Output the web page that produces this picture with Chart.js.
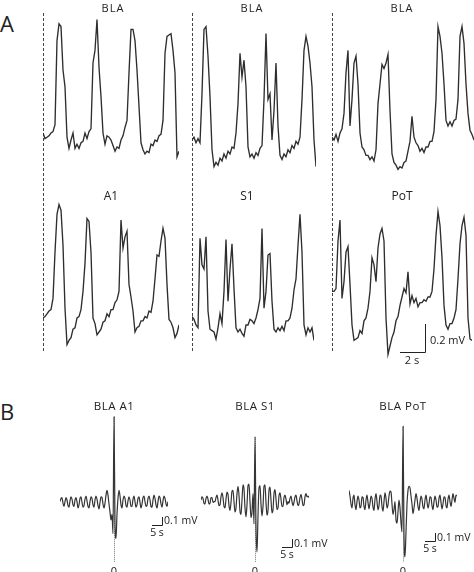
<!DOCTYPE html>
<html>
<head>
<meta charset="utf-8">
<script src="https://cdn.jsdelivr.net/npm/chart.js@4.4.1/dist/chart.umd.min.js"></script>
<style>
  body { margin: 0; width: 474px; height: 572px; position: relative; overflow: hidden; background: #fff;
         font-family: "Open Sans", "Noto Sans", sans-serif; color: #222; }
  canvas { position: absolute; }
  .lbl { position: absolute; white-space: nowrap; line-height: 1; transform: translate(-50%, -50%); }
  .left { transform: translate(0, -50%); }
  .dash { position: absolute; width: 0; border-left: 1px dashed #444; }
</style>
</head>
<body>
<script>
// ---- data (mV) ----
const traceStep = 0.16;   // s between samples, panel A
const lagStep = 0.5;      // s between lags, panel B
const lagStart = -27;

const blaTrace1 = [0.30,0.26,0.27,0.28,0.30,0.31,0.36,0.96,1.08,1.06,
  0.75,0.63,0.27,0.19,0.25,0.30,0.19,0.22,0.19,0.23,
  0.24,0.30,0.26,0.31,0.33,0.80,0.89,1.11,0.77,0.56,
  0.30,0.22,0.28,0.27,0.25,0.21,0.17,0.20,0.19,0.25,
  0.28,0.34,0.39,0.73,1.04,1.04,0.96,0.75,0.49,0.23,
  0.18,0.15,0.17,0.16,0.22,0.21,0.25,0.24,0.28,0.29,
  0.39,0.87,0.99,1.00,1.01,0.89,0.73,0.13,0.17];

const blaTrace2 = [0.25,0.27,0.23,0.26,0.23,0.58,1.04,1.06,0.85,0.56,
  0.18,0.06,0.09,0.07,0.12,0.10,0.15,0.12,0.17,0.15,
  0.20,0.19,0.30,0.51,0.87,0.70,0.82,0.63,0.20,0.13,
  0.15,0.12,0.16,0.14,0.19,0.21,0.54,1.01,0.54,0.58,
  0.25,0.46,0.80,0.35,0.14,0.11,0.15,0.13,0.18,0.16,
  0.21,0.19,0.24,0.22,0.27,0.54,0.89,0.99,0.92,0.80,
  0.63,0.25,0.06];

const blaTrace3 = [0.27,0.25,0.29,0.24,0.30,0.33,0.44,0.73,0.89,0.35,
  0.54,0.80,0.85,0.65,0.30,0.20,0.18,0.14,0.14,0.11,
  0.13,0.10,0.18,0.51,0.65,0.79,0.76,0.80,0.86,0.46,
  0.15,0.09,0.07,0.04,0.06,0.05,0.09,0.10,0.17,0.24,
  0.42,0.27,0.23,0.21,0.17,0.19,0.16,0.20,0.20,0.24,
  0.24,0.31,0.54,1.06,0.99,0.87,0.65,0.39,0.35,0.38,
  0.35,0.39,0.40,0.54,0.99,1.06,0.94,0.65,0.44,0.32,
  0.29,0.25];

const a1Trace = [0.30,0.31,0.33,0.35,0.36,0.44,0.77,1.04,1.11,1.07,
  0.82,0.37,0.11,0.14,0.16,0.22,0.23,0.30,0.31,0.36,
  0.49,0.69,1.01,0.99,0.77,0.30,0.26,0.18,0.20,0.22,
  0.27,0.28,0.33,0.31,0.36,0.36,0.41,0.43,0.49,1.00,
  0.80,0.88,0.92,0.54,0.45,0.35,0.20,0.23,0.24,0.28,
  0.28,0.31,0.30,0.35,0.34,0.42,0.58,0.75,0.74,0.85,
  0.94,0.87,0.54,0.29,0.27,0.23,0.16,0.19,0.25];

const s1Trace = [0.31,0.29,0.25,0.23,0.87,0.68,0.65,0.88,0.35,0.22,
  0.21,0.20,0.15,0.23,0.33,0.26,0.49,0.86,0.42,0.65,
  0.83,0.51,0.23,0.20,0.22,0.19,0.17,0.25,0.25,0.29,
  0.28,0.26,0.30,0.36,0.44,0.94,0.37,0.49,0.75,0.76,
  0.42,0.22,0.20,0.23,0.21,0.24,0.21,0.28,0.28,0.30,
  0.37,0.50,0.58,0.82,1.04,0.77,0.25,0.18,0.23,0.20,
  0.23,0.14];

const potTrace = [0.49,0.49,0.51,0.85,1.00,0.44,0.56,0.77,0.81,0.54,
  0.25,0.14,0.15,0.16,0.21,0.19,0.28,0.30,0.37,0.49,
  0.73,0.68,0.56,0.80,0.90,0.94,0.85,0.30,0.04,0.10,
  0.16,0.20,0.28,0.31,0.39,0.45,0.51,0.48,0.63,0.40,
  0.46,0.41,0.44,0.38,0.41,0.41,0.43,0.42,0.45,0.45,
  0.49,0.65,0.89,1.06,0.96,0.73,0.39,0.25,0.22,0.26,
  0.26,0.30,0.36,0.58,0.83,0.96,1.02,0.89,0.30,0.15,
  0.14];

const corrBlaA1 = [-0.02,0.02,0.03,-0.04,-0.08,-0.02,0.03,0.00,-0.07,-0.09,
  -0.01,0.04,0.01,-0.06,-0.08,0.00,0.03,-0.02,-0.10,-0.06,
  0.02,0.04,-0.03,-0.09,-0.07,0.01,0.05,-0.01,-0.08,-0.10,
  -0.02,0.04,0.02,-0.06,-0.09,0.00,0.05,0.01,-0.07,-0.11,
  -0.03,0.04,0.03,-0.05,-0.10,-0.04,0.06,0.12,0.06,-0.05,
  -0.15,-0.25,-0.18,-0.42,1.04,-0.30,-0.48,-0.18,0.02,0.12,
  0.05,-0.06,-0.10,0.00,0.05,0.02,-0.07,-0.09,-0.01,0.04,
  0.00,-0.08,-0.08,0.01,0.05,-0.02,-0.09,-0.06,0.02,0.04,
  -0.03,-0.10,-0.05,0.03,0.05,-0.02,-0.08,-0.07,0.02,0.05,
  0.00,-0.08,-0.09,0.00,0.06,0.02,-0.06,-0.10,-0.02,0.05,
  0.03,-0.05,-0.09,-0.01,0.05,0.02,-0.05,-0.08,-0.02];

const corrBlaS1 = [0.00,0.04,0.02,-0.04,-0.05,0.02,0.05,0.01,-0.05,-0.04,
  0.03,0.03,-0.03,-0.02,-0.02,0.03,0.06,0.00,-0.07,-0.06,
  0.04,0.09,0.03,-0.08,-0.10,0.01,0.10,0.07,-0.07,-0.13,
  -0.03,0.11,0.12,-0.02,-0.15,-0.10,0.08,0.17,0.06,-0.14,
  -0.18,0.00,0.19,0.14,-0.10,-0.21,-0.06,0.18,0.20,-0.02,
  -0.22,-0.15,0.08,-0.30,0.79,-0.35,-0.65,-0.20,0.15,0.18,
  -0.05,-0.20,-0.08,0.17,0.19,-0.03,-0.19,-0.13,0.12,0.16,
  0.00,-0.16,-0.12,0.08,0.13,0.01,-0.12,-0.10,0.05,0.09,
  0.01,-0.08,-0.08,0.03,0.06,0.01,-0.06,-0.02,-0.04,0.02,
  0.05,-0.02,-0.07,-0.03,0.04,0.06,-0.01,-0.07,-0.05,0.03,
  0.07,0.01,-0.07,-0.06,0.04,0.08,0.04,0.05,0.03];

const corrBlaPoT = [0.12,0.05,-0.05,-0.10,0.02,0.06,-0.06,-0.12,-0.02,0.05,
  0.00,-0.10,-0.08,0.04,0.03,-0.08,-0.12,0.00,0.06,-0.03,
  -0.11,-0.04,0.05,0.02,-0.09,-0.13,0.01,0.08,-0.02,-0.12,
  -0.07,0.06,0.05,-0.08,-0.14,-0.02,0.09,0.02,-0.10,-0.06,
  0.05,0.11,0.10,-0.05,-0.18,-0.12,-0.02,-0.25,-0.29,-0.15,
  0.00,-0.10,-0.28,-0.40,0.92,-0.45,-0.71,-0.40,-0.05,0.12,
  0.17,0.15,0.05,-0.05,-0.17,-0.10,0.00,0.08,0.02,-0.08,
  -0.13,-0.03,0.05,0.01,-0.09,-0.11,0.00,0.06,-0.02,-0.10,
  -0.05,0.04,0.03,-0.07,-0.12,-0.02,0.05,0.00,-0.09,-0.08,
  0.02,0.06,-0.03,-0.11,-0.05,0.04,0.03,-0.07,-0.10,0.01,
  0.06,-0.02,-0.08,0.00,0.08,0.02,-0.03,0.06,0.05];

const topTitles = ['BLA', 'BLA', 'BLA'];
const bottomTitles = ['A1', 'S1', 'PoT'];
const corrTitles = ['BLA A1', 'BLA S1', 'BLA PoT'];

// ---- layout ----
const PAD = 4;
const A_PX_S = 12.5, A_PX_MV = 140, A_VMAX = 1.2;
const B_PX_S = 2, B_PX_MV = 80, B_VMIN = -0.775, B_VMAX = 1.125;

// scale bar drawn in data units of its chart
const scaleBar = {
  id: 'scaleBar',
  afterDatasetsDraw(chart, args, o) {
    if (o.x0 === undefined) return;
    const {x, y} = chart.scales, ctx = chart.ctx;
    const xa = x.getPixelForValue(o.x0), xb = x.getPixelForValue(o.x0 + o.dx);
    const ya = y.getPixelForValue(o.y0), yb = y.getPixelForValue(o.y0 + o.dy);
    ctx.save();
    ctx.strokeStyle = '#222';
    ctx.lineWidth = 1;
    ctx.beginPath();
    ctx.moveTo(Math.round(xa), Math.round(ya) + 0.5);
    ctx.lineTo(Math.round(xb) + 0.5, Math.round(ya) + 0.5);
    ctx.lineTo(Math.round(xb) + 0.5, Math.round(yb));
    ctx.stroke();
    ctx.restore();
  }
};

// dotted zero-lag line
const zeroLine = {
  id: 'zeroLine',
  beforeDatasetsDraw(chart, args, o) {
    if (!o.on) return;
    const {x, y} = chart.scales, ctx = chart.ctx;
    const vals = chart.data.datasets[0].data.map(p => p.y);
    const px = Math.round(x.getPixelForValue(0)) + 0.5;
    ctx.save();
    ctx.strokeStyle = '#777';
    ctx.lineWidth = 1;
    ctx.setLineDash([1, 1]);
    ctx.beginPath();
    ctx.moveTo(px, y.getPixelForValue(Math.max(...vals)));
    ctx.lineTo(px, chart.chartArea.bottom);
    ctx.stroke();
    ctx.restore();
  }
};

function drawTrace({values, step, start = 0, left, top, width, height, yMin, yMax, lineW, color, bar, zero, smooth}) {
  const c = document.createElement('canvas');
  c.width = width + 2 * PAD;
  c.height = height + 2 * PAD;
  c.style.left = (left - PAD) + 'px';
  c.style.top = (top - PAD) + 'px';
  document.body.appendChild(c);
  new Chart(c, {
    type: 'line',
    data: {
      datasets: [{
        data: values.map((v, i) => ({x: start + i * step, y: v})),
        borderColor: color,
        borderWidth: lineW,
        pointRadius: 0,
        tension: smooth ? 0.4 : 0,
        cubicInterpolationMode: smooth ? 'monotone' : 'default',
        fill: false
      }]
    },
    options: {
      responsive: false,
      animation: false,
      events: [],
      layout: { padding: PAD },
      plugins: {
        legend: { display: false },
        tooltip: { enabled: false },
        scaleBar: bar || {},
        zeroLine: { on: !!zero }
      },
      scales: {
        x: { type: 'linear', display: false, min: start, max: start + (values.length - 1) * step },
        y: { display: false, min: yMin, max: yMax }
      }
    },
    plugins: [scaleBar, zeroLine]
  });
}

function label(text, x, y, size, cls) {
  const d = document.createElement('div');
  d.className = 'lbl' + (cls ? ' ' + cls : '');
  d.textContent = text;
  d.style.left = x + 'px';
  d.style.top = y + 'px';
  d.style.fontSize = size + 'px';
  document.body.appendChild(d);
  return d;
}

// ---- panel A ----
const colLeft = [43, 192, 332];
const rowBottom = [175, 360];
const rows = [[blaTrace1, blaTrace2, blaTrace3], [a1Trace, s1Trace, potTrace]];

colLeft.forEach(x => {
  const d = document.createElement('div');
  d.className = 'dash';
  d.style.left = x + 'px';
  d.style.top = '13px';
  d.style.height = '338px';
  document.body.appendChild(d);
});

rows.forEach((row, r) => {
  row.forEach((vals, c) => {
    drawTrace({
      values: vals, step: traceStep,
      left: colLeft[c], top: rowBottom[r] - A_VMAX * A_PX_MV,
      width: Math.round((vals.length - 1) * traceStep * A_PX_S), height: A_VMAX * A_PX_MV,
      yMin: 0, yMax: A_VMAX, lineW: 1.35, color: '#2e2e2e',
      bar: (r === 1 && c === 2) ? {x0: 5.44, dx: 2, y0: 0.057, dy: 0.2} : null
    });
  });
});

label('A', 0, 23, 22, 'left');
[113, 252, 402].forEach((x, i) => label(topTitles[i], x, 7, 11).style.letterSpacing = '1px');
[111, 247, 402].forEach((x, i) => label(bottomTitles[i], x, 196, 12));
label('0.2 mV', 430, 339, 11, 'left');
label('2 s', 412, 359, 11);

// ---- panel B ----
const corrCenter = [114, 255, 403];
const corrSeries = [corrBlaA1, corrBlaS1, corrBlaPoT];
const corrBars = [
  {x0: 19, dx: 5, y0: -0.3125, dy: 0.1},
  {x0: 13.5, dx: 5, y0: -0.5875, dy: 0.1},
  {x0: 11, dx: 5, y0: -0.5125, dy: 0.1}
];
const corrBarLabels = [[164, 520, 157, 532], [294, 543, 287, 554], [437, 537, 430, 548]];

corrSeries.forEach((vals, i) => {
  const span = (vals.length - 1) * lagStep;
  drawTrace({
    values: vals, step: lagStep, start: lagStart,
    left: corrCenter[i] + lagStart * B_PX_S, top: 410,
    width: span * B_PX_S, height: (B_VMAX - B_VMIN) * B_PX_MV,
    yMin: B_VMIN, yMax: B_VMAX, lineW: 1.2, color: '#353535',
    bar: corrBars[i], zero: true, smooth: true
  });
  label(corrTitles[i], corrCenter[i], 406, 11.5).style.letterSpacing = '0.5px';
  label('0', corrCenter[i], 570, 11);
  const [mx, my, sx, sy] = corrBarLabels[i];
  label('0.1 mV', mx, my, 10.5, 'left');
  label('5 s', sx, sy, 10.5);
});

label('B', 0, 411, 22, 'left');
</script>
</body>
</html>
